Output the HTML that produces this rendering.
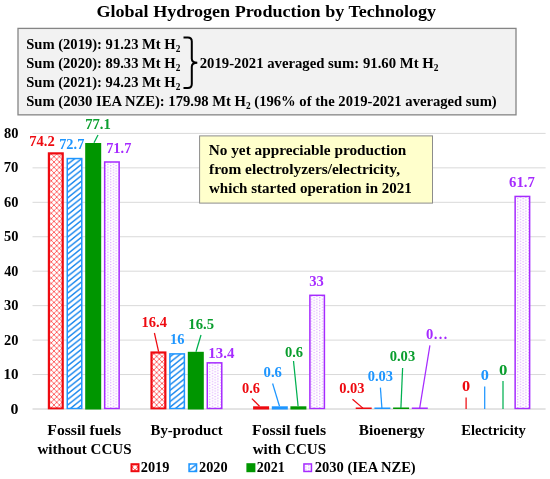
<!DOCTYPE html>
<html><head><meta charset="utf-8"><title>Global Hydrogen Production by Technology</title>
<style>
html,body{margin:0;padding:0;background:#fff;}
body{width:550px;height:479px;overflow:hidden;}
svg{display:block;}
text{font-family:"Liberation Serif",serif;font-weight:bold;}
</style></head><body>
<svg width="550" height="479" viewBox="0 0 550 479">
<defs>
<pattern id="pr" width="5.4" height="5.4" patternUnits="userSpaceOnUse">
<rect width="5.4" height="5.4" fill="#fff"/>
<path d="M-1,-1 L6.4,6.4 M-1,6.4 L6.4,-1 M-1,4.4 L1,6.4 M4.4,-1 L6.4,1 M-1,1 L1,-1 M4.4,6.4 L6.4,4.4" stroke="#ff5050" stroke-width="0.85" fill="none"/>
</pattern>
<pattern id="pb" width="7" height="5.6" patternUnits="userSpaceOnUse">
<rect width="7" height="5.6" fill="#fff"/>
<path d="M-1,6.4 L8,-0.8 M-1,0.8 L1,-0.8 M6,6.4 L8,4.8" stroke="#1a88ee" stroke-width="1.45" fill="none"/>
</pattern>
<pattern id="pp" width="5.5" height="2.75" patternUnits="userSpaceOnUse">
<rect width="5.5" height="2.75" fill="#fff"/>
<rect x="0.3" y="0.2" width="0.9" height="0.9" fill="#c467ff"/>
<rect x="3.05" y="1.58" width="0.9" height="0.9" fill="#c467ff"/>
</pattern>
<clipPath id="plot"><rect x="0" y="0" width="550" height="409.5"/></clipPath>
</defs>
<rect width="550" height="479" fill="#fff"/>

<line x1="32.5" x2="545.6" y1="409.00" y2="409.00" stroke="#c8c8c8" stroke-width="1"/>
<line x1="32.5" x2="545.6" y1="374.55" y2="374.55" stroke="#d9d9d9" stroke-width="1"/>
<line x1="32.5" x2="545.6" y1="340.10" y2="340.10" stroke="#d9d9d9" stroke-width="1"/>
<line x1="32.5" x2="545.6" y1="305.65" y2="305.65" stroke="#d9d9d9" stroke-width="1"/>
<line x1="32.5" x2="545.6" y1="271.20" y2="271.20" stroke="#d9d9d9" stroke-width="1"/>
<line x1="32.5" x2="545.6" y1="236.75" y2="236.75" stroke="#d9d9d9" stroke-width="1"/>
<line x1="32.5" x2="545.6" y1="202.30" y2="202.30" stroke="#d9d9d9" stroke-width="1"/>
<line x1="32.5" x2="545.6" y1="167.85" y2="167.85" stroke="#d9d9d9" stroke-width="1"/>
<line x1="32.5" x2="545.6" y1="133.40" y2="133.40" stroke="#d9d9d9" stroke-width="1"/>
<g clip-path="url(#plot)">
<rect x="48.91" y="153.38" width="13.80" height="255.17" fill="url(#pr)" stroke="#ee0a10" stroke-width="2.2"/>
<rect x="67.26" y="158.55" width="14.50" height="250.00" fill="url(#pb)" stroke="#1e96ff" stroke-width="1.5"/>
<rect x="85.2" y="143.0" width="16.0" height="268.6" fill="#009600"/>
<rect x="104.66" y="161.99" width="14.50" height="246.56" fill="url(#pp)" stroke="#a62bff" stroke-width="1.5"/>
<rect x="151.53" y="352.50" width="13.80" height="56.05" fill="url(#pr)" stroke="#ee0a10" stroke-width="2.2"/>
<rect x="169.88" y="353.88" width="14.50" height="54.67" fill="url(#pb)" stroke="#1e96ff" stroke-width="1.5"/>
<rect x="187.8" y="351.8" width="16.0" height="59.8" fill="#009600"/>
<rect x="207.28" y="362.84" width="14.50" height="45.71" fill="url(#pp)" stroke="#a62bff" stroke-width="1.5"/>
<rect x="253.1" y="406.3" width="16.0" height="4" fill="#ee0a10"/>
<rect x="271.8" y="406.3" width="16.0" height="4" fill="#1e96ff"/>
<rect x="290.4" y="406.3" width="16.0" height="4" fill="#009600"/>
<rect x="309.90" y="295.31" width="14.50" height="113.23" fill="url(#pp)" stroke="#a62bff" stroke-width="1.5"/>
<line x1="355.7" x2="371.7" y1="408.2" y2="408.2" stroke="#ee0a10" stroke-width="1.4"/>
<line x1="374.4" x2="390.4" y1="408.2" y2="408.2" stroke="#1e96ff" stroke-width="1.4"/>
<line x1="393.1" x2="409.1" y1="408.2" y2="408.2" stroke="#009600" stroke-width="1.4"/>
<line x1="411.8" x2="427.8" y1="408.2" y2="408.2" stroke="#a62bff" stroke-width="1.4"/>
<rect x="515.14" y="196.44" width="14.50" height="212.11" fill="url(#pp)" stroke="#a62bff" stroke-width="1.5"/>
</g>
<text x="10.53" y="413.6" font-size="14.0" fill="#000" textLength="7.93" lengthAdjust="spacingAndGlyphs">0</text>
<text x="3.43" y="379.1" font-size="14.0" fill="#000" textLength="15.01" lengthAdjust="spacingAndGlyphs">10</text>
<text x="3.98" y="344.7" font-size="14.0" fill="#000" textLength="14.43" lengthAdjust="spacingAndGlyphs">20</text>
<text x="3.98" y="310.2" font-size="14.0" fill="#000" textLength="14.43" lengthAdjust="spacingAndGlyphs">30</text>
<text x="4.25" y="275.8" font-size="14.0" fill="#000" textLength="14.16" lengthAdjust="spacingAndGlyphs">40</text>
<text x="3.98" y="241.3" font-size="14.0" fill="#000" textLength="14.43" lengthAdjust="spacingAndGlyphs">50</text>
<text x="3.98" y="206.8" font-size="14.0" fill="#000" textLength="14.43" lengthAdjust="spacingAndGlyphs">60</text>
<text x="3.71" y="172.4" font-size="14.0" fill="#000" textLength="14.71" lengthAdjust="spacingAndGlyphs">70</text>
<text x="3.98" y="137.9" font-size="14.0" fill="#000" textLength="14.43" lengthAdjust="spacingAndGlyphs">80</text>
<text x="29.19" y="146.2" font-size="13.6" fill="#ee0a10" textLength="25.59" lengthAdjust="spacingAndGlyphs">74.2</text>
<text x="59.21" y="149.4" font-size="13.6" fill="#1e96ff" textLength="25.10" lengthAdjust="spacingAndGlyphs">72.7</text>
<text x="85.19" y="129.2" font-size="13.6" fill="#0a9e2e" textLength="25.67" lengthAdjust="spacingAndGlyphs">77.1</text>
<text x="106.21" y="153.4" font-size="13.6" fill="#a62bff" textLength="25.10" lengthAdjust="spacingAndGlyphs">71.7</text>
<text x="141.53" y="326.5" font-size="13.6" fill="#ee0a10" textLength="25.38" lengthAdjust="spacingAndGlyphs">16.4</text>
<text x="169.94" y="344.4" font-size="13.6" fill="#1e96ff" textLength="14.43" lengthAdjust="spacingAndGlyphs">16</text>
<text x="188.32" y="328.8" font-size="13.6" fill="#0a9e2e" textLength="25.67" lengthAdjust="spacingAndGlyphs">16.5</text>
<text x="208.31" y="357.5" font-size="13.6" fill="#a62bff" textLength="26.02" lengthAdjust="spacingAndGlyphs">13.4</text>
<text x="242.07" y="392.5" font-size="13.6" fill="#ee0a10" textLength="17.96" lengthAdjust="spacingAndGlyphs">0.6</text>
<text x="263.56" y="377.2" font-size="13.6" fill="#1e96ff" textLength="18.38" lengthAdjust="spacingAndGlyphs">0.6</text>
<text x="284.97" y="357.3" font-size="13.6" fill="#0a9e2e" textLength="18.17" lengthAdjust="spacingAndGlyphs">0.6</text>
<text x="309.16" y="285.8" font-size="13.6" fill="#a62bff" textLength="14.61" lengthAdjust="spacingAndGlyphs">33</text>
<text x="339.27" y="392.5" font-size="13.6" fill="#ee0a10" textLength="25.31" lengthAdjust="spacingAndGlyphs">0.03</text>
<text x="367.67" y="381.3" font-size="13.6" fill="#1e96ff" textLength="25.31" lengthAdjust="spacingAndGlyphs">0.03</text>
<text x="389.66" y="361.2" font-size="13.6" fill="#0a9e2e" textLength="25.52" lengthAdjust="spacingAndGlyphs">0.03</text>
<text x="426.06" y="338.6" font-size="13.6" fill="#a62bff" textLength="21.86" lengthAdjust="spacingAndGlyphs">0…</text>
<text x="461.90" y="391.1" font-size="13.6" fill="#ee0a10" textLength="8.16" lengthAdjust="spacingAndGlyphs">0</text>
<text x="480.70" y="380.3" font-size="13.6" fill="#1e96ff" textLength="8.16" lengthAdjust="spacingAndGlyphs">0</text>
<text x="499.08" y="374.6" font-size="13.6" fill="#0a9e2e" textLength="8.39" lengthAdjust="spacingAndGlyphs">0</text>
<text x="509.06" y="187.3" font-size="13.6" fill="#a62bff" textLength="25.76" lengthAdjust="spacingAndGlyphs">61.7</text>
<line x1="98" y1="135" x2="94" y2="142.8" stroke="#00b050" stroke-width="1.25"/>
<line x1="154.4" y1="333" x2="158.6" y2="351.6" stroke="#ee0a10" stroke-width="1.25"/>
<line x1="201" y1="335" x2="196" y2="351.8" stroke="#00b050" stroke-width="1.25"/>
<line x1="251.9" y1="398.6" x2="259.5" y2="406.3" stroke="#ee0a10" stroke-width="1.25"/>
<line x1="272.6" y1="383.5" x2="279.5" y2="406.3" stroke="#1e96ff" stroke-width="1.25"/>
<line x1="293.5" y1="361" x2="298.1" y2="406.3" stroke="#00b050" stroke-width="1.25"/>
<line x1="352.5" y1="399.2" x2="362.9" y2="408.1" stroke="#ee0a10" stroke-width="1.25"/>
<line x1="380.4" y1="387.6" x2="381.9" y2="408.1" stroke="#1e96ff" stroke-width="1.25"/>
<line x1="402.6" y1="368" x2="400.9" y2="408.1" stroke="#00b050" stroke-width="1.25"/>
<line x1="429.9" y1="345.3" x2="419.7" y2="408.1" stroke="#a62bff" stroke-width="1.25"/>
<line x1="466.1" y1="397.6" x2="466.1" y2="409" stroke="#ee0a10" stroke-width="1.25"/>
<line x1="484.7" y1="386.5" x2="484.7" y2="409" stroke="#1e96ff" stroke-width="1.25"/>
<line x1="503" y1="380.9" x2="503" y2="409" stroke="#00b050" stroke-width="1.25"/>
<rect x="131.50" y="464.20" width="7" height="7" fill="url(#pr)" stroke="#ee0a10" stroke-width="2"/>
<rect x="189.05" y="463.95" width="7.5" height="7.5" fill="url(#pb)" stroke="#1e96ff" stroke-width="1.5"/>
<rect x="247.15" y="463.95" width="7.5" height="7.5" fill="#009600" stroke="#009600" stroke-width="1.5"/>
<rect x="303.95" y="463.95" width="7.5" height="7.5" fill="url(#pp)" stroke="#a62bff" stroke-width="1.5"/>
<text x="47.32" y="434.7" font-size="14" fill="#000" textLength="73.72" lengthAdjust="spacingAndGlyphs">Fossil fuels</text>
<text x="37.50" y="453.8" font-size="14" fill="#000" textLength="94.05" lengthAdjust="spacingAndGlyphs">without CCUS</text>
<text x="150.64" y="434.7" font-size="14" fill="#000" textLength="72.01" lengthAdjust="spacingAndGlyphs">By-product</text>
<text x="252.12" y="434.7" font-size="14" fill="#000" textLength="73.93" lengthAdjust="spacingAndGlyphs">Fossil fuels</text>
<text x="252.70" y="453.8" font-size="14" fill="#000" textLength="73.42" lengthAdjust="spacingAndGlyphs">with CCUS</text>
<text x="358.83" y="434.7" font-size="14" fill="#000" textLength="66.14" lengthAdjust="spacingAndGlyphs">Bioenergy</text>
<text x="461.24" y="434.7" font-size="14" fill="#000" textLength="64.55" lengthAdjust="spacingAndGlyphs">Electricity</text>
<text x="140.77" y="471.8" font-size="13.6" fill="#000" textLength="28.69" lengthAdjust="spacingAndGlyphs">2019</text>
<text x="199.07" y="471.8" font-size="13.6" fill="#000" textLength="28.59" lengthAdjust="spacingAndGlyphs">2020</text>
<text x="256.78" y="471.8" font-size="13.6" fill="#000" textLength="28.13" lengthAdjust="spacingAndGlyphs">2021</text>
<text x="314.77" y="471.8" font-size="13.6" fill="#000" textLength="100.95" lengthAdjust="spacingAndGlyphs">2030 (IEA NZE)</text>
<text x="96.41" y="17.4" font-size="17.2" fill="#000" textLength="339.74" lengthAdjust="spacingAndGlyphs">Global Hydrogen Production by Technology</text>
<rect x="18" y="28.4" width="498" height="86.45" fill="#f2f2f2" stroke="#858585" stroke-width="1.3"/>
<text x="26.18" y="48.5" font-size="15.3" fill="#000" textLength="154.23" lengthAdjust="spacingAndGlyphs">Sum (2019): 91.23 Mt H<tspan font-size="9.8" dy="3">2</tspan></text>
<text x="26.18" y="67.8" font-size="15.3" fill="#000" textLength="154.23" lengthAdjust="spacingAndGlyphs">Sum (2020): 89.33 Mt H<tspan font-size="9.8" dy="3">2</tspan></text>
<text x="26.18" y="86.9" font-size="15.3" fill="#000" textLength="154.23" lengthAdjust="spacingAndGlyphs">Sum (2021): 94.23 Mt H<tspan font-size="9.8" dy="3">2</tspan></text>
<text x="26.18" y="105.9" font-size="15.3" fill="#000" textLength="470.55" lengthAdjust="spacingAndGlyphs">Sum (2030 IEA NZE): 179.98 Mt H<tspan font-size="9.8" dy="3">2</tspan><tspan dy="-3"> (196% of the 2019-2021 averaged sum)</tspan></text>
<text x="199.68" y="67.8" font-size="15.3" fill="#000" textLength="238.74" lengthAdjust="spacingAndGlyphs">2019-2021 averaged sum: 91.60 Mt H<tspan font-size="9.8" dy="3">2</tspan></text>
<path d="M183.5,37.4 H187.8 Q191.8,37.4 191.8,41.4 V58.8 Q191.8,62.8 197.3,62.8 Q191.8,62.8 191.8,66.8 V84 Q191.8,88 187.8,88 H183.5" fill="none" stroke="#000" stroke-width="2"/>
<rect x="199.6" y="135.9" width="232.9" height="67.2" fill="#ffffcc" stroke="#8c8c8c" stroke-width="1"/>
<text x="208.74" y="155.4" font-size="14.6" fill="#000" textLength="197.56" lengthAdjust="spacingAndGlyphs">No yet appreciable production</text>
<text x="209.00" y="173.8" font-size="14.6" fill="#000" textLength="190.99" lengthAdjust="spacingAndGlyphs">from electrolyzers/electricity,</text>
<text x="209.00" y="192.7" font-size="14.6" fill="#000" textLength="202.79" lengthAdjust="spacingAndGlyphs">which started operation in 2021</text>
</svg></body></html>
